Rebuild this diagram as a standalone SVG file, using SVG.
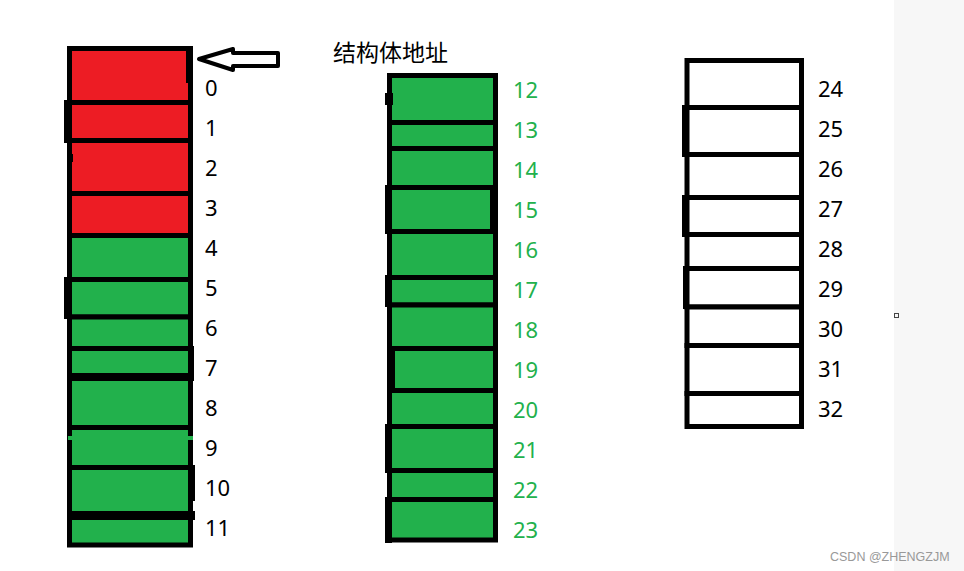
<svg xmlns="http://www.w3.org/2000/svg" width="964" height="571" viewBox="0 0 964 571">
<style>
.r{fill:#ed1c24;stroke:#000;stroke-width:5}
.g{fill:#22b14c;stroke:#000;stroke-width:5}
.w{fill:#fff;stroke:#000;stroke-width:5}
.k{fill:#000}
text{font-family:"Noto Sans","Noto Sans CJK SC",sans-serif;font-size:22px}
.tb{fill:#000}
.tg{fill:#22b14c}
</style>
<rect x="0" y="0" width="964" height="571" fill="#fff"/>
<rect x="894" y="0" width="70" height="571" fill="#f7f7f7"/>
<rect x="894.5" y="313.5" width="4" height="4" fill="none" stroke="#444" stroke-width="1"/>
<g id="col1">
<rect class="r" x="69.5" y="48.5" width="121" height="54"/>
<rect class="r" x="69.5" y="102.5" width="121" height="38"/>
<rect class="r" x="69.5" y="140.5" width="121" height="53"/>
<rect class="r" x="69.5" y="193.5" width="121" height="42"/>
<rect class="g" x="69.5" y="235.5" width="121" height="44"/>
<rect class="g" x="69.5" y="279.5" width="121" height="37.5"/>
<rect class="g" x="69.5" y="317" width="121" height="31.5"/>
<rect class="g" x="69.5" y="348.5" width="121" height="28.5"/>
<rect class="g" x="69.5" y="377" width="121" height="50.5"/>
<rect class="g" x="69.5" y="427.5" width="121" height="40"/>
<rect class="g" x="69.5" y="467.5" width="121" height="48"/>
<rect class="g" x="69.5" y="515.5" width="121" height="29.5"/>
<rect class="k" x="186" y="46" width="7" height="37"/>
<rect class="k" x="64" y="100" width="8" height="43"/>
<rect class="k" x="68" y="154" width="5" height="8"/>
<rect class="k" x="64" y="277" width="8" height="42"/>
<rect class="k" x="188" y="277" width="5" height="42"/>
<rect class="k" x="188" y="346" width="6" height="35"/>
<rect class="k" x="67" y="373" width="126" height="8"/>
<rect class="k" x="188" y="465" width="7" height="36"/>
<rect class="k" x="67" y="511" width="128" height="9"/>
<rect x="68" y="436" width="6" height="4" fill="#22b14c"/>
<rect x="187" y="436" width="6" height="4" fill="#22b14c"/>
<text class="tb" x="205" y="96">0</text>
<text class="tb" x="205" y="136">1</text>
<text class="tb" x="205" y="176">2</text>
<text class="tb" x="205" y="216">3</text>
<text class="tb" x="205" y="256">4</text>
<text class="tb" x="205" y="296">5</text>
<text class="tb" x="205" y="336">6</text>
<text class="tb" x="205" y="376">7</text>
<text class="tb" x="205" y="416">8</text>
<text class="tb" x="205" y="456">9</text>
<text class="tb" x="205" y="496">10</text>
<text class="tb" x="205" y="536">11</text>
</g>
<g id="col2">
<rect class="g" x="389.5" y="75.5" width="106" height="47"/>
<rect class="g" x="389.5" y="122.5" width="106" height="26"/>
<rect class="g" x="389.5" y="148.5" width="106" height="39"/>
<rect class="g" x="389.5" y="187.5" width="106" height="44"/>
<rect class="g" x="389.5" y="231.5" width="106" height="46"/>
<rect class="g" x="389.5" y="277.5" width="106" height="27.5"/>
<rect class="g" x="389.5" y="305" width="106" height="43.5"/>
<rect class="g" x="389.5" y="348.5" width="106" height="42"/>
<rect class="g" x="389.5" y="390.5" width="106" height="36"/>
<rect class="g" x="389.5" y="426.5" width="106" height="44"/>
<rect class="g" x="389.5" y="470.5" width="106" height="29"/>
<rect class="g" x="389.5" y="499.5" width="106" height="40.5"/>
<rect class="k" x="385" y="93" width="8" height="12"/>
<rect class="k" x="385" y="185" width="7" height="49"/>
<rect class="k" x="490" y="190" width="7" height="40"/>
<rect class="k" x="385" y="275" width="7" height="32"/>
<rect class="k" x="391" y="349" width="4" height="42"/>
<rect class="k" x="385" y="424" width="7" height="49"/>
<rect class="k" x="494" y="424" width="4" height="49"/>
<rect class="k" x="385" y="497" width="7" height="46"/>
<text class="tg" x="513" y="98">12</text>
<text class="tg" x="513" y="138">13</text>
<text class="tg" x="513" y="178">14</text>
<text class="tg" x="513" y="218">15</text>
<text class="tg" x="513" y="258">16</text>
<text class="tg" x="513" y="298">17</text>
<text class="tg" x="513" y="338">18</text>
<text class="tg" x="513" y="378">19</text>
<text class="tg" x="513" y="418">20</text>
<text class="tg" x="513" y="458">21</text>
<text class="tg" x="513" y="498">22</text>
<text class="tg" x="513" y="538">23</text>
</g>
<g id="col3">
<rect class="w" x="687" y="60.5" width="114.5" height="47"/>
<rect class="w" x="687" y="107.5" width="114.5" height="47"/>
<rect class="w" x="687" y="154.5" width="114.5" height="43"/>
<rect class="w" x="687" y="197.5" width="114.5" height="37"/>
<rect class="w" x="687" y="234.5" width="114.5" height="34"/>
<rect class="w" x="687" y="268.5" width="114.5" height="38.5"/>
<rect class="w" x="687" y="307" width="114.5" height="38.5"/>
<rect class="w" x="687" y="345.5" width="114.5" height="48"/>
<rect class="w" x="687" y="393.5" width="114.5" height="33"/>
<rect class="k" x="682" y="105" width="7" height="52"/>
<rect class="k" x="682" y="195" width="7" height="42"/>
<rect class="k" x="683" y="266" width="6" height="43"/>
<text class="tb" x="818" y="97">24</text>
<text class="tb" x="818" y="137">25</text>
<text class="tb" x="818" y="177">26</text>
<text class="tb" x="818" y="217">27</text>
<text class="tb" x="818" y="257">28</text>
<text class="tb" x="818" y="297">29</text>
<text class="tb" x="818" y="337">30</text>
<text class="tb" x="818" y="377">31</text>
<text class="tb" x="818" y="417">32</text>
</g>
<g id="label">
<text class="tb" x="333" y="61" style="font-size:23px">结构体地址</text>
</g>
<g id="connectors">
<path d="M199,59 L233,49 L233,53 L278,53 L278,66 L233,66 L233,70 Z" fill="#fff" stroke="#000" stroke-width="4" stroke-linejoin="round"/>
</g>
<text x="830" y="561" style="font-family:'Liberation Sans',sans-serif;font-size:12.5px;fill:#999">CSDN @ZHENGZJM</text>
</svg>
